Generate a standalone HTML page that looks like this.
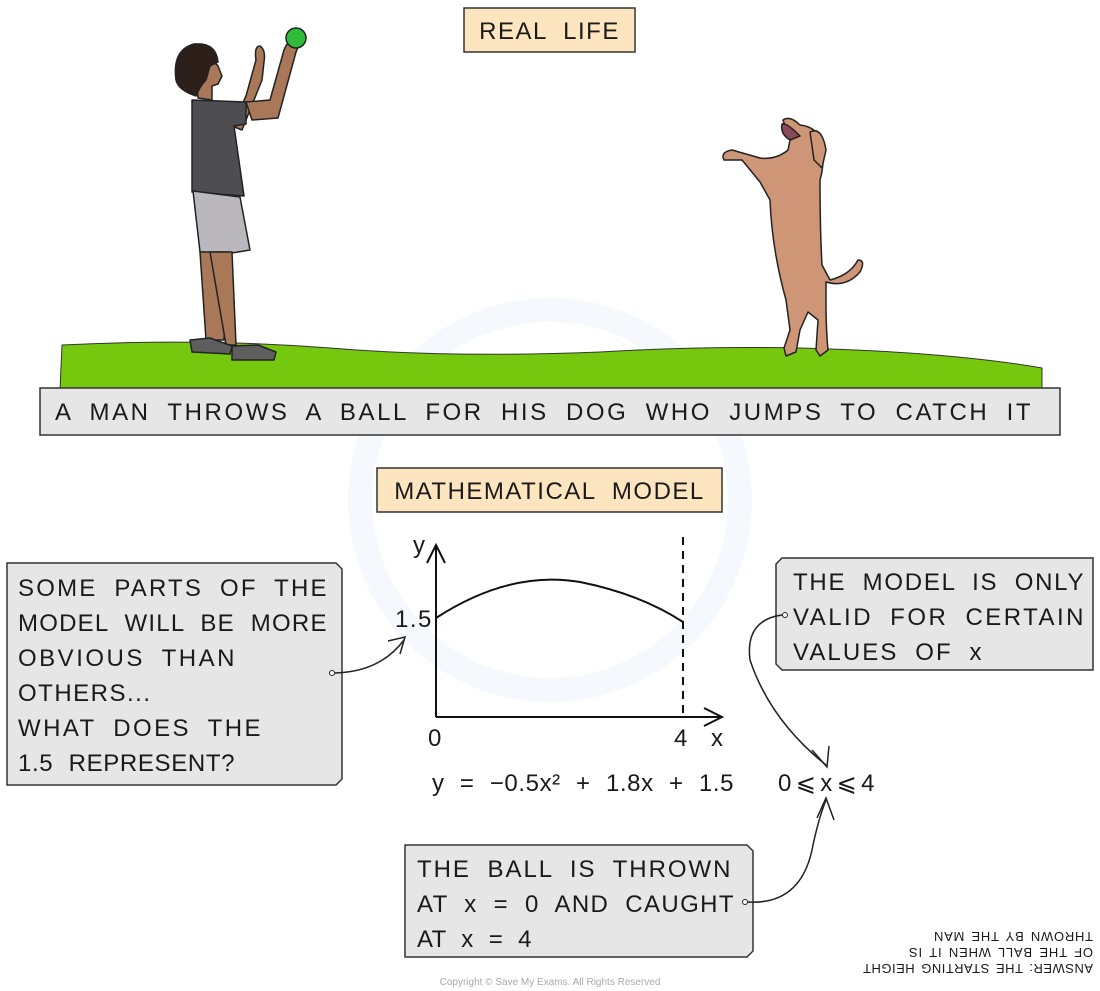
<!DOCTYPE html>
<html><head><meta charset="utf-8"><style>
html,body{margin:0;padding:0;background:#fff}
svg{display:block}
text{font-family:"Liberation Sans",sans-serif;fill:#1a1a1a}
.t{font-size:24px;letter-spacing:1.5px;word-spacing:8px}
.a{font-size:13px;letter-spacing:1px;word-spacing:2px}
</style></head><body>
<svg width="1100" height="991" viewBox="0 0 1100 991" xmlns="http://www.w3.org/2000/svg">
<!-- watermark -->
<circle cx="550" cy="500" r="190" fill="none" stroke="#f5f8fc" stroke-width="24"/>
<!-- title real life -->
<rect x="464" y="8" width="171" height="44" fill="#fde6bf" stroke="#333" stroke-width="1.5"/>
<text x="549.5" y="39" class="t" text-anchor="middle">REAL LIFE</text>
<!-- grass -->
<path d="M62 345 Q200 338 330 348 Q450 358 600 352 Q700 346 800 348 Q950 352 1042 368 L1042 390 L60 390 Z" fill="#76c80f" stroke="#333" stroke-width="1"/>
<!-- caption -->
<rect x="40" y="388" width="1020" height="47" fill="#e6e6e6" stroke="#333" stroke-width="1.5"/>
<text x="55" y="420" class="t" textLength="977" lengthAdjust="spacing">A MAN THROWS A BALL FOR HIS DOG WHO JUMPS TO CATCH IT</text>
<!-- man -->
<g stroke="#222" stroke-width="1.5" stroke-linejoin="round">
 <path d="M256 60 Q254 46 260 46 Q266 50 264 62 L262 80 L242 130 L232 126 L246 96 Z" fill="#a97858"/>
 <path d="M284 50 Q288 40 296 38 Q300 44 296 52 L278 118 L252 120 L246 102 L270 100 Z" fill="#a97858"/>
 <circle cx="296" cy="38" r="10" fill="#2ebc3a"/>
 <path d="M192 100 L246 102 L246 124 L234 126 L244 196 L192 192 Z" fill="#4e4d52"/>
 <path d="M193 191 L240 197 L250 250 L232 253 L200 252 Z" fill="#bbb8bd"/>
 <path d="M200 252 L228 252 L224 340 L206 340 Z" fill="#a97858"/>
 <path d="M210 252 L232 252 L236 345 L226 345 Z" fill="#a97858"/>
 <path d="M190 340 L210 338 L232 346 L230 354 L192 352 Z" fill="#5e5e5e"/>
 <path d="M232 346 L258 345 L276 352 L274 360 L232 360 Z" fill="#5e5e5e"/>
 <path d="M204 64 Q214 60 218 66 L222 76 L218 84 L212 86 L212 100 L198 98 Q196 80 204 64 Z" fill="#a97858"/>
 <path d="M176 80 Q172 50 194 44 Q216 42 218 62 L210 66 L206 80 Q200 86 196 96 Q178 90 176 80 Z" fill="#2d1f1a"/>
</g>
<!-- dog -->
<g stroke="#222" stroke-width="1.5" stroke-linejoin="round" fill="#cf9577">
 <path d="M783 120 Q790 115 800 125 Q812 126 820 136 Q826 160 820 180 Q820 230 822 265 L830 280 Q850 275 858 260 Q866 260 860 272 Q846 288 826 282 L826 300 Q826 330 828 350 L820 356 L816 350 L818 320 L808 312 L800 330 L796 352 L786 356 L784 348 L790 330 L786 300 Q772 250 770 200 L760 182 L742 160 L724 160 Q720 152 732 150 L760 158 Q776 160 788 150 L790 140 Z"/>
 <path d="M810 132 Q822 126 826 150 L822 168 L814 160 Z"/>
 <path d="M782 124 Q786 122 800 136 L790 140 Q780 134 782 124 Z" fill="#8a4a5a"/>
</g>
<!-- title math model -->
<rect x="377" y="468" width="345" height="44" fill="#fde6bf" stroke="#333" stroke-width="1.5"/>
<text x="549.5" y="499" class="t" text-anchor="middle">MATHEMATICAL MODEL</text>
<!-- left box -->
<path d="M7 563 L336 563 L342 569 L342 779 L336 785 L7 785 Z" fill="#e6e6e6" stroke="#333" stroke-width="1.5"/>
<text x="18" y="596" class="t" textLength="310">SOME PARTS OF THE</text>
<text x="18" y="631" class="t" textLength="310">MODEL WILL BE MORE</text>
<text x="18" y="666" class="t" textLength="218">OBVIOUS THAN</text>
<text x="18" y="701" class="t">OTHERS...</text>
<text x="18" y="736" class="t" textLength="244">WHAT DOES THE</text>
<text x="18" y="771" class="t" textLength="218">1.5 REPRESENT?</text>
<circle cx="332" cy="673" r="2.5" fill="#fff" stroke="#222"/>
<path d="M335 673 Q380 672 404 640" fill="none" stroke="#222" stroke-width="1.5"/>
<path d="M388 641 L405 637 L400 654" fill="none" stroke="#222" stroke-width="1.5"/>
<!-- graph -->
<g fill="none" stroke="#111" stroke-width="2">
 <path d="M436 717 L436 545"/><path d="M427 563 L436 545 L445 563"/>
 <path d="M436 717 L722 717"/><path d="M704 708 L722 717 L704 726"/>
 <path d="M436 618 Q510 570 580 582 Q640 594 683 622"/>
 <path d="M683 537 L683 717" stroke-dasharray="8 6"/>
</g>
<text x="413" y="553" class="t">y</text>
<text x="395" y="627" class="t">1.5</text>
<text x="428" y="746" class="t">0</text>
<text x="674" y="746" class="t">4</text>
<text x="711" y="746" class="t">x</text>
<text x="432" y="791" class="t" textLength="303">y = −0.5x² + 1.8x + 1.5</text>
<text x="778" y="791" class="t" textLength="98">0⩽x⩽4</text>
<!-- right box -->
<path d="M782 558 L1093 558 L1093 670 L782 670 L776 664 L776 564 Z" fill="#e6e6e6" stroke="#333" stroke-width="1.5"/>
<text x="793" y="590" class="t" textLength="292">THE MODEL IS ONLY</text>
<text x="793" y="625" class="t" textLength="292">VALID FOR CERTAIN</text>
<text x="793" y="660" class="t" textLength="190">VALUES OF x</text>
<circle cx="785" cy="615" r="2.5" fill="#fff" stroke="#222"/>
<path d="M782 615 Q745 620 750 660 Q770 720 826 765" fill="none" stroke="#222" stroke-width="1.5"/>
<path d="M812 750 L827 767 L829 746" fill="none" stroke="#222" stroke-width="1.5"/>
<!-- bottom box -->
<path d="M405 845 L747 845 L753 851 L753 951 L747 957 L405 957 Z" fill="#e6e6e6" stroke="#333" stroke-width="1.5"/>
<text x="417" y="877" class="t" textLength="315">THE BALL IS THROWN</text>
<text x="417" y="912" class="t" textLength="318">AT x = 0 AND CAUGHT</text>
<text x="417" y="947" class="t" textLength="116">AT x = 4</text>
<circle cx="745" cy="902" r="2.5" fill="#fff" stroke="#222"/>
<path d="M748 902 Q800 905 812 850 Q818 820 826 800" fill="none" stroke="#222" stroke-width="1.5"/>
<path d="M817 818 L826 798 L834 820" fill="none" stroke="#222" stroke-width="1.5"/>
<!-- upside-down answer -->
<g transform="rotate(180 978 953)">
<text x="863" y="942" class="a" textLength="231">ANSWER: THE STARTING HEIGHT</text>
<text x="863" y="958" class="a" textLength="185">OF THE BALL WHEN IT IS</text>
<text x="863" y="974" class="a" textLength="160">THROWN BY THE MAN</text>
</g>
<text x="550" y="985" text-anchor="middle" style="font-size:10px;fill:#aaa">Copyright © Save My Exams. All Rights Reserved</text>
</svg>
</body></html>
